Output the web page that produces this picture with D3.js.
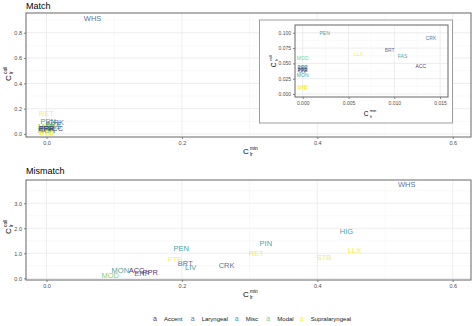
<!DOCTYPE html>
<html><head><meta charset="utf-8">
<script src="https://cdn.jsdelivr.net/npm/d3@7"></script>
<style>
body{margin:0;background:#fff;}
svg{font-family:"Liberation Sans",Arial,sans-serif;}
</style></head>
<body><svg id="c" width="474" height="326"></svg>
<script>
// ---- data ----
const labels    = ["WHS","CRK","BRT","ACC","PEN","PIN","HIG","LIV","FAS","MON","MOD","RET","LLX","STB","FTE","PPR","ERP"];
const category  = ["Laryngeal","Laryngeal","Laryngeal","Accent","Misc","Misc","Misc","Misc","Misc","Misc","Modal","Supralaryngeal","Supralaryngeal","Supralaryngeal","Supralaryngeal","Accent","Laryngeal"];
const matchMin     = [0.068,0.014,0.0095,0.0129,0.0024,0.0,0.0,0.0,0.0109,0.0,0.0,0.0,0.0061,0.0,0.0,0.0,0.0];
const matchColl    = [0.91,0.092,0.072,0.046,0.100,0.042,0.040,0.038,0.062,0.031,0.059,0.164,0.065,0.012,0.010,0.040,0.044];
const mismatchMin  = [0.532,0.266,0.205,0.133,0.199,0.324,0.443,0.213,null,0.109,0.094,0.31,0.455,0.41,0.19,0.153,0.141];
const mismatchColl = [3.76,0.50,0.60,0.33,1.20,1.40,1.86,0.44,null,0.30,0.10,1.00,1.10,0.85,0.76,0.22,0.20];
const categories = ["Accent","Laryngeal","Misc","Modal","Supralaryngeal"];
const palette    = ["#440154","#3B528B","#21908C","#5DC863","#FDE725"];
const xTicks = [0,0.2,0.4,0.6];
const matchYTicks = [0,0.2,0.4,0.6,0.8];
const mismatchYTicks = [0,1,2,3];
const insetXTicks = [0,0.005,0.01,0.015];
const insetYTicks = [0,0.025,0.05,0.075,0.1];

const svg = d3.select("#c");
const color = d3.scaleOrdinal().domain(categories).range(palette);

const rows = labels.map((l,i)=>({label:l,cat:category[i],mx:matchMin[i],my:matchColl[i],sx:mismatchMin[i],sy:mismatchColl[i]}));

function panel(g, xs, ys, xt, yt, xf, yf, fs, showTickLabelsX){
  const [x0,x1]=xs.range(), [y0,y1]=ys.range();
  g.append("rect").attr("x",x0).attr("y",y1).attr("width",x1-x0).attr("height",y0-y1).attr("fill","#fff");
  // minor grid
  const mid=a=>a.slice(0,-1).map((v,i)=>(v+a[i+1])/2);
  const xm=mid(xt), ym=mid(yt);
  const step=a=>a[1]-a[0];
  xm.push(xt[xt.length-1]+step(xt)/2); ym.push(yt[yt.length-1]+step(yt)/2); xm.unshift(xt[0]-step(xt)/2); ym.unshift(yt[0]-step(yt)/2);
  xm.filter(v=>xs(v)>x0&&xs(v)<x1).forEach(v=>g.append("line").attr("x1",xs(v)).attr("x2",xs(v)).attr("y1",y0).attr("y2",y1).attr("stroke","#f3f3f3").attr("stroke-width",0.5));
  ym.filter(v=>ys(v)<y0&&ys(v)>y1).forEach(v=>g.append("line").attr("y1",ys(v)).attr("y2",ys(v)).attr("x1",x0).attr("x2",x1).attr("stroke","#f3f3f3").attr("stroke-width",0.5));
  xt.forEach(v=>g.append("line").attr("x1",xs(v)).attr("x2",xs(v)).attr("y1",y0).attr("y2",y1).attr("stroke","#ebebeb").attr("stroke-width",0.9));
  yt.forEach(v=>g.append("line").attr("y1",ys(v)).attr("y2",ys(v)).attr("x1",x0).attr("x2",x1).attr("stroke","#ebebeb").attr("stroke-width",0.9));
  // axes
  const ax=g.append("g").attr("transform",`translate(0,${y0})`).call(d3.axisBottom(xs).tickValues(xt).tickFormat(d3.format(xf)).tickSize(2).tickPadding(2));
  const ay=g.append("g").attr("transform",`translate(${x0},0)`).call(d3.axisLeft(ys).tickValues(yt).tickFormat(d3.format(yf)).tickSize(2).tickPadding(2));
  [ax,ay].forEach(a=>{a.select(".domain").remove();a.selectAll("line").attr("stroke","#333").attr("stroke-width",0.6);
    a.selectAll("text").attr("fill","#4d4d4d").attr("font-size",fs).attr("font-family","Liberation Sans, Arial, sans-serif");});
  g.append("rect").attr("x",x0).attr("y",y1).attr("width",x1-x0).attr("height",y0-y1).attr("fill","none").attr("stroke","#666").attr("stroke-width",1);
}

function labelsG(g, data, xs, ys, fx, fy, fs){
  g.selectAll("text.pt").data(data).join("text").attr("class","pt")
    .attr("x",d=>xs(fx(d))).attr("y",d=>ys(fy(d)))
    .attr("text-anchor","middle").attr("dominant-baseline","central")
    .attr("font-size",fs).attr("fill",d=>color(d.cat)).attr("fill-opacity",0.85).text(d=>d.label);
}

function axisTitle(g, x, y, sup, sub, rotate, fs){
  const t=g.append("g").attr("transform",`translate(${x},${y})${rotate?" rotate(-90)":""}`);
  t.append("text").attr("x",-3).attr("y",3).attr("font-size",fs).attr("text-anchor","middle").attr("fill","#000").text("C");
  t.append("text").attr("x",1).attr("y",-1).attr("font-size",fs*0.6).attr("fill","#000").text(sup);
  t.append("text").attr("x",1).attr("y",5).attr("font-size",fs*0.6).attr("fill","#000").text(sub);
}

// ---- Match panel ----
const x = d3.scaleLinear().domain([-0.0303,0.627]).range([26,471]);
const yM = d3.scaleLinear().domain([-0.024,0.956]).range([137,13]);
const gM = svg.append("g");
svg.append("text").attr("x",26).attr("y",9).attr("font-size",9).attr("fill","#000").text("Match");
panel(gM, x, yM, xTicks, matchYTicks, ".1f", ".1f", 5.5);
labelsG(gM, rows, x, yM, d=>d.mx, d=>d.my, 7.5);
axisTitle(svg, 249, 151, "min", "lr", false, 8);
axisTitle(svg, 8, 75, "coll", "lr", true, 8);

// ---- Inset ----
const gI = svg.append("g");
gI.append("rect").attr("x",259.5).attr("y",20).attr("width",193).attr("height",103).attr("fill","#fff").attr("stroke","#888").attr("stroke-width",0.8);
const xi = d3.scaleLinear().domain([-0.00084,0.01586]).range([295,448]);
const yi = d3.scaleLinear().domain([-0.0049,0.1127]).range([97,25]);
panel(gI, xi, yi, insetXTicks, insetYTicks, ".3f", ".3f", 5);
labelsG(gI, rows.filter(d=>d.mx<=0.0159&&d.my<=0.11), xi, yi, d=>d.mx, d=>d.my, 5);
axisTitle(gI, 369, 113, "min", "lr", false, 6.5);
axisTitle(gI, 273, 62, "coll", "lr", true, 6.5);

// ---- Mismatch panel ----
const yS = d3.scaleLinear().domain([-0.068,3.93]).range([280,180]);
const gS = svg.append("g");
svg.append("text").attr("x",26).attr("y",174).attr("font-size",9).attr("fill","#000").text("Mismatch");
panel(gS, x, yS, xTicks, mismatchYTicks, ".1f", ".1f", 5.5);
labelsG(gS, rows.filter(d=>d.sx!=null), x, yS, d=>d.sx, d=>d.sy, 7.5);
axisTitle(svg, 249, 294, "min", "lr", false, 8);
axisTitle(svg, 8, 228, "coll", "lr", true, 8);

// ---- Legend ----
const lg = svg.append("g");
const legX = [155,192.7,236.7,268.3,301.7];
categories.forEach((c,i)=>{
  lg.append("text").attr("x",legX[i]).attr("y",321).attr("font-size",7).attr("text-anchor","middle").attr("fill",color(c)).attr("fill-opacity",0.85).text("a");
  lg.append("text").attr("x",legX[i]+9).attr("y",321).attr("font-size",6).attr("fill","#222").text(c);
});
</script></body></html>
